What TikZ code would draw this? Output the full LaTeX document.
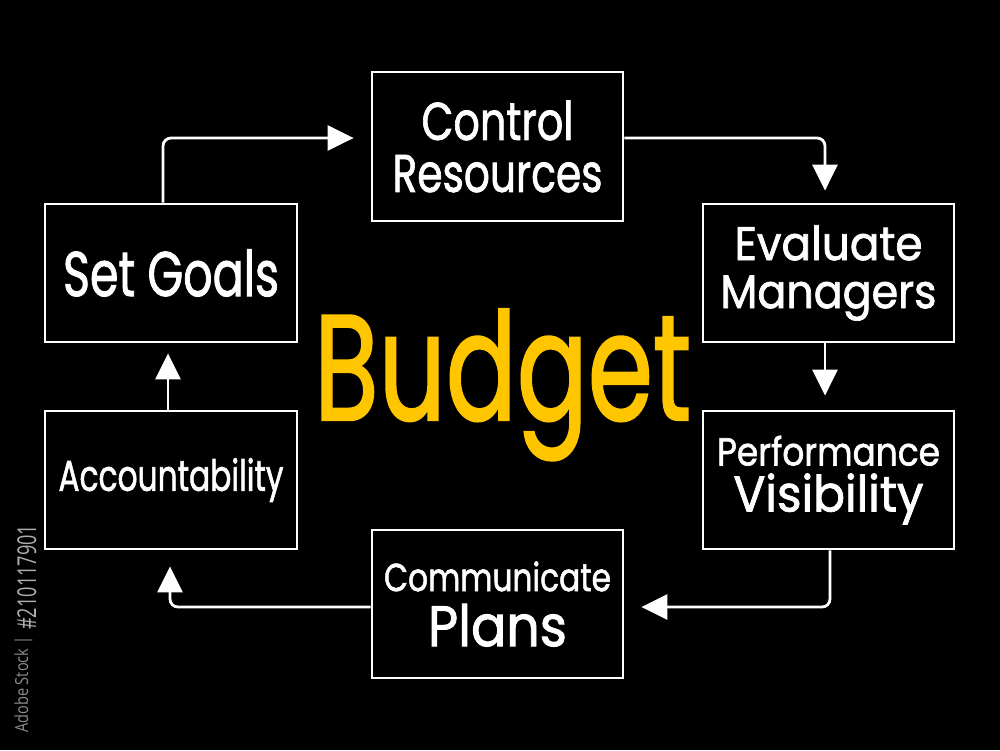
\documentclass[tikz,border=0pt]{standalone}
\usepackage{fontspec}
\setmainfont{Poppins}[FakeBold=1.6]
\newfontfamily\wmfont{Open Sans}
\usepackage{graphicx}
\usetikzlibrary{arrows.meta,calc}
\definecolor{budgetyellow}{RGB}{255,198,0}
\definecolor{wmgray}{RGB}{140,140,140}
\definecolor{wmlight}{RGB}{175,175,175}
\newcommand{\fw}[2]{\resizebox{#1}{\height}{#2}}
\tikzset{
  box/.style={draw=white, line width=2.8pt, text=white, align=center, inner sep=0pt},
  conn/.style={draw=white, line width=2.8pt, rounded corners=8pt, -{Triangle[length=26pt,width=25pt]}},
  wm/.style={rotate=90, anchor=base west, inner sep=0pt}
}
\begin{document}
\begin{tikzpicture}[x=1pt,y=-1pt]
\fill[black] (0,0) rectangle (1000,750);
\useasboundingbox (0,0) rectangle (1000,750);

\node[box, minimum width=251pt, minimum height=149pt, font=\fontsize{53}{52}\selectfont] (cr) at (497.5,146.5) {\fw{152pt}{Control}\\\fw{210pt}{Resources}};
\node[box, minimum width=252pt, minimum height=138pt, font=\fontsize{63}{63}\selectfont] (sg) at (171,273) {\fw{216pt}{Set Goals}};
\node[box, minimum width=251pt, minimum height=138pt, font=\fontsize{47}{48}\selectfont] (em) at (828.5,273) {\fw{188pt}{Evaluate}\\\fw{216pt}{Managers}};
\node[box, minimum width=252pt, minimum height=138pt, font=\fontsize{43}{43}\selectfont] (ac) at (171,480) {\fw{225pt}{Accountability}};
\node[box, minimum width=251pt, minimum height=138pt, font=\fontsize{50}{46}\selectfont] (pv) at (828.5,480) {{\fontsize{39}{46}\selectfont\fw{223pt}{Performance}}\\\fw{190pt}{Visibility}};
\node[box, minimum width=251pt, minimum height=148pt, font=\fontsize{57}{55}\selectfont] (cp) at (497.5,604) {{\fontsize{39}{55}\selectfont\fw{227pt}{Communicate}}\\\fw{139pt}{Plans}};

\node[text=budgetyellow, inner sep=0pt, anchor=base west, font=\fontsize{150}{150}\selectfont] (bud) at (314,420) {\fw{377pt}{Budget}};

\draw[conn] ($(sg.north)+(-8,0)$) |- ($(cr.west)+(-17,-8.5)$);
\draw[conn] ($(cr.east)+(0,-8.5)$) -| ($(em.north)+(-3.5,-12)$);
\draw[conn] ($(em.south)+(-3.5,0)$) -- ($(pv.north)+(-3.5,-14)$);
\draw[conn] ($(pv.south)+(1.5,0)$) |- ($(cp.east)+(17,3)$);
\draw[conn] ($(cp.west)+(0,3)$) -| ($(ac.south)+(-1,16)$);
\draw[conn] ($(ac.north)+(-3,0)$) -- ($(sg.south)+(-3,10)$);

\node[wm, text=wmgray, font=\wmfont\fontsize{18}{18}\selectfont] (wm1) at (28,733) {\fw{96pt}{Adobe Stock |}};
\node[wm, text=wmlight, font=\wmfont\fontsize{26}{26}\selectfont] (wm2) at (36,630) {\fw{105pt}{\#210117901}};
\end{tikzpicture}
\end{document}
